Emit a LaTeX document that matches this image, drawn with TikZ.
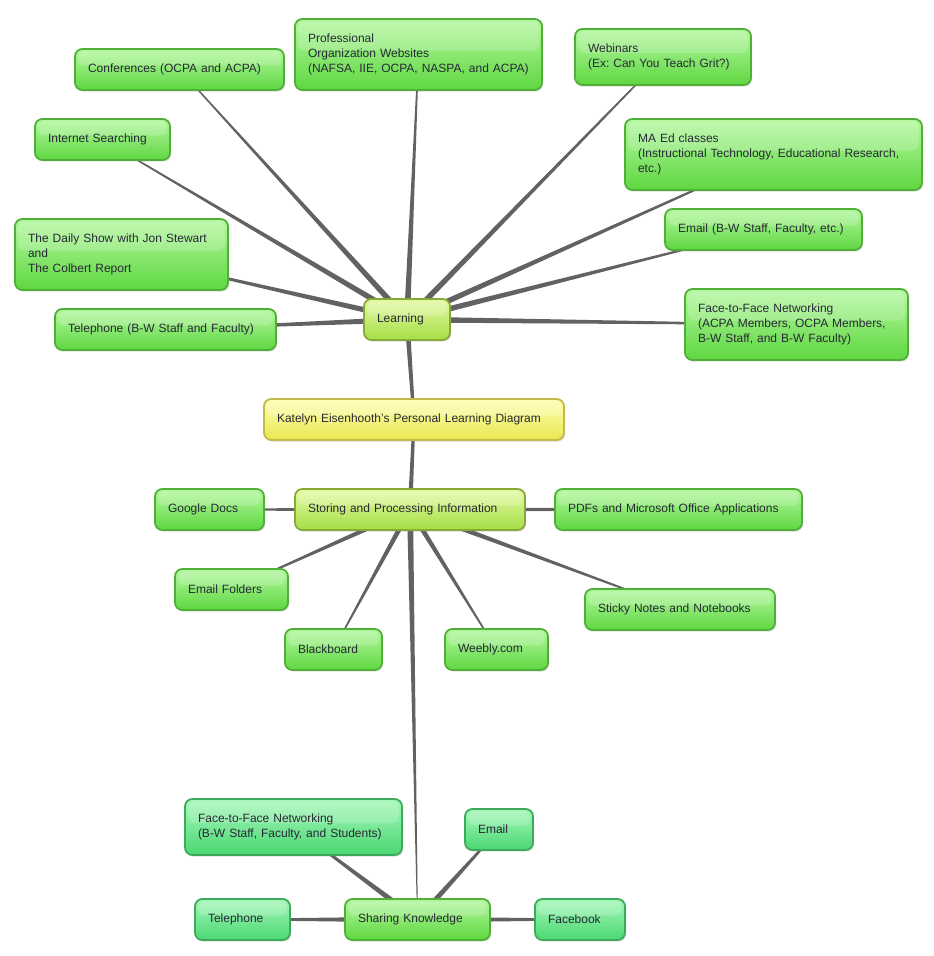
\documentclass[tikz,border=0pt]{standalone}
\usepackage{fontspec}
\setmainfont{Liberation Sans}
\usetikzlibrary{calc,shadows,backgrounds}
\frenchspacing
\definecolor{txt}{RGB}{40,40,55}
\definecolor{gtop}{RGB}{180,248,160}
\definecolor{gbot}{RGB}{95,215,65}
\definecolor{gbrd}{RGB}{80,175,55}
\definecolor{ttop}{RGB}{165,248,185}
\definecolor{tbot}{RGB}{75,215,115}
\definecolor{tbrd}{RGB}{60,170,90}
\definecolor{ltop}{RGB}{228,250,165}
\definecolor{lbot}{RGB}{165,222,70}
\definecolor{lbrd}{RGB}{135,170,55}
\definecolor{ytop}{RGB}{255,255,180}
\definecolor{ybot}{RGB}{232,232,80}
\definecolor{ybrd}{RGB}{195,185,75}
\definecolor{connc}{RGB}{98,98,98}
\newcommand\oneln[1]{\mbox{#1}}
\newcommand\tconn[4]{\fill[connc] ($(#1)!#3!90:(#2)$) -- ($(#2)!#4!-90:(#1)$) -- ($(#2)!#4!90:(#1)$) -- ($(#1)!#3!-90:(#2)$) -- cycle;}
\tikzset{
  box/.style={rounded corners=5.5pt, line width=1.3pt, font=\fontsize{9pt}{11.25pt}\selectfont,
    text=txt, align=left, inner xsep=9.75pt, inner ysep=0pt,
    drop shadow={shadow xshift=0.8pt, shadow yshift=-1.2pt, opacity=0.25},
    path picture={\fill[white,opacity=0.18,rounded corners=4pt]
      ($(path picture bounding box.north west)+(2.5pt,-2pt)$) rectangle
      ($(path picture bounding box.east)+(-2.5pt,3pt)$);}},
  gbox/.style={box, top color=gtop, bottom color=gbot, draw=gbrd},
  tbox/.style={box, top color=ttop, bottom color=tbot, draw=tbrd},
  lbox/.style={box, top color=ltop, bottom color=lbot, draw=lbrd},
  ybox/.style={box, top color=ytop, bottom color=ybot, draw=ybrd},
  hs/.style={minimum height=30.75pt},
  hm/.style={minimum height=42pt},
  hl/.style={minimum height=53.25pt}
}
\begin{document}
\begin{tikzpicture}[x=0.75pt,y=-0.75pt]
\useasboundingbox (0,0) rectangle (933,956);
% top group
\node[gbox,hs,text width=137.25pt] (conf) at (179.5,69.5) {\oneln{Conferences (OCPA and ACPA)}};
\node[gbox,hl,text width=165.75pt] (prof) at (418.5,54.5) {\oneln{Professional}\\\oneln{Organization Websites}\\\oneln{(NAFSA, IIE, OCPA, NASPA, and ACPA)}};
\node[gbox,hm,text width=112.5pt] (web) at (663,57) {\oneln{Webinars}\\\oneln{(Ex: Can You Teach Grit?)}};
\node[gbox,hs,text width=81.75pt] (inet) at (102.5,139.5) {\oneln{Internet Searching}};
\node[gbox,hl,text width=203.25pt] (maed) at (773.5,154.5) {\oneln{MA Ed classes}\\\oneln{(Instructional Technology, Educational Research,}\\\oneln{etc.)}};
\node[gbox,hl,text width=140.25pt] (daily) at (121.5,254.5) {\oneln{The Daily Show with Jon Stewart}\\\oneln{and}\\\oneln{The Colbert Report}};
\node[gbox,hs,text width=128.25pt] (emailt) at (763.5,229.5) {\oneln{Email (B-W Staff, Faculty, etc.)}};
\node[gbox,hs,text width=146.25pt] (tel) at (165.5,329.5) {\oneln{Telephone (B-W Staff and Faculty)}};
\node[lbox,hs,text width=45pt] (learn) at (407,319.5) {\oneln{Learning}};
\node[gbox,hl,text width=147.75pt] (f2ft) at (796.5,324.5) {\oneln{Face-to-Face Networking}\\\oneln{(ACPA Members, OCPA Members,}\\\oneln{B-W Staff, and B-W Faculty)}};
% center
\node[ybox,hs,text width=205.5pt] (kat) at (414,419.5) {\oneln{Katelyn Eisenhooth's Personal Learning Diagram}};
% middle group
\node[gbox,hs,text width=62.25pt] (gdoc) at (209.5,509.5) {\oneln{Google Docs}};
\node[lbox,hs,text width=153pt] (stor) at (410,509.5) {\oneln{Storing and Processing Information}};
\node[gbox,hs,text width=165.75pt] (pdf) at (678.5,509.5) {\oneln{PDFs and Microsoft Office Applications}};
\node[gbox,hs,text width=65.25pt] (efold) at (231.5,589.5) {\oneln{Email Folders}};
\node[gbox,hs,text width=123pt] (sticky) at (680,609.5) {\oneln{Sticky Notes and Notebooks}};
\node[gbox,hs,text width=53.25pt] (bb) at (333.5,649.5) {\oneln{Blackboard}};
\node[gbox,hs,text width=57.75pt] (weebly) at (496.5,649.5) {\oneln{Weebly.com}};
% bottom group
\node[tbox,hm,text width=143.25pt] (f2fb) at (293.5,827) {\oneln{Face-to-Face Networking}\\\oneln{(B-W Staff, Faculty, and Students)}};
\node[tbox,hs,text width=31.5pt] (emailb) at (499,829.5) {\oneln{Email}};
\node[tbox,hs,text width=51.75pt] (telb) at (242.5,919.5) {\oneln{Telephone}};
\node[gbox,hs,text width=89.25pt] (share) at (417.5,919.5) {\oneln{Sharing Knowledge}};
\node[tbox,hs,text width=48pt] (fb) at (580,919.5) {\oneln{Facebook}};
\begin{scope}[on background layer]
\fill[white] (0,0) rectangle (933,956);
\tconn{learn}{conf}{2.25pt}{0.4pt}
\tconn{learn}{prof}{2.25pt}{0.4pt}
\tconn{learn}{web}{2.25pt}{0.4pt}
\tconn{learn}{inet}{2.25pt}{0.4pt}
\tconn{learn}{maed}{2.25pt}{0.4pt}
\tconn{learn}{daily}{2.25pt}{0.4pt}
\tconn{learn}{emailt}{2.25pt}{0.4pt}
\tconn{learn}{tel}{2.25pt}{0.4pt}
\tconn{learn}{f2ft}{2.25pt}{0.4pt}
\tconn{learn}{kat}{1.9pt}{1.1pt}
\tconn{stor}{kat}{1.7pt}{1.1pt}
\tconn{stor}{gdoc}{2pt}{0.4pt}
\tconn{stor}{pdf}{2pt}{0.4pt}
\tconn{stor}{efold}{2pt}{0.4pt}
\tconn{stor}{sticky}{2pt}{0.4pt}
\tconn{stor}{bb}{2pt}{0.4pt}
\tconn{stor}{weebly}{2pt}{0.4pt}
\tconn{stor}{share}{2.25pt}{0.3pt}
\tconn{share}{f2fb}{2.25pt}{0.6pt}
\tconn{share}{emailb}{2.25pt}{0.6pt}
\tconn{share}{telb}{2.25pt}{0.6pt}
\tconn{share}{fb}{2.25pt}{0.6pt}
\end{scope}
\end{tikzpicture}
\end{document}
